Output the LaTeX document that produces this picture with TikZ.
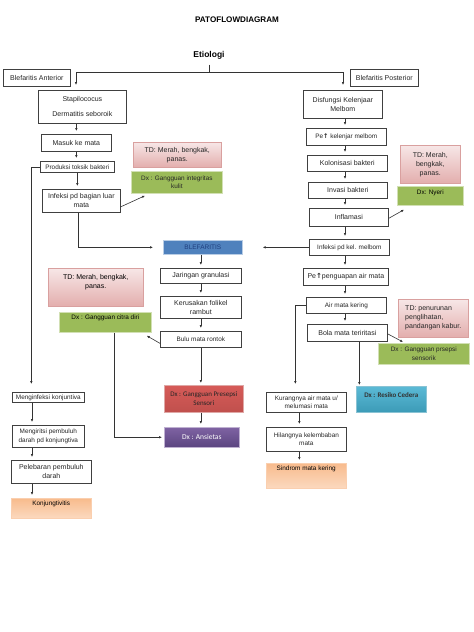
\documentclass[tikz,border=0pt]{standalone}
\usepackage{fontspec}
\setmainfont{Liberation Sans}
\newfontfamily\carl{Carlito}
\newfontfamily\djv{DejaVu Sans}
\newcommand\uparr{{\djv\bfseries ↑}}
\usetikzlibrary{arrows.meta,calc,shadows}
\definecolor{gfill}{HTML}{9BBB59}
\definecolor{pinkT}{HTML}{F7E7E7}
\definecolor{pinkB}{HTML}{E3AEAD}
\definecolor{pinkD}{HTML}{D9A09F}
\definecolor{bfill}{HTML}{4F81BD}
\definecolor{btext}{HTML}{1F3F7F}
\definecolor{redT}{HTML}{D65B58}
\definecolor{redB}{HTML}{C0504D}
\definecolor{purT}{HTML}{7F63A3}
\definecolor{purB}{HTML}{5B4580}
\definecolor{cyT}{HTML}{5BBAD6}
\definecolor{cyB}{HTML}{3C9BB7}
\definecolor{orT}{HTML}{F8BB8C}
\definecolor{orB}{HTML}{FBD9BF}
\definecolor{edgec}{HTML}{404040}
\begin{document}
\begin{tikzpicture}[x=1pt,y=-1pt,
  fsev/.style={font=\fontsize{7}{9}\selectfont},
  fsix/.style={font=\fontsize{6.4}{8.4}\selectfont},
  base/.style={anchor=north west, align=center, inner sep=1pt, fsev, text=black!85},
  bx/.style={base, draw=edgec, line width=0.7pt, fill=white},
  shad/.style={drop shadow={shadow xshift=0.8pt, shadow yshift=-0.8pt, opacity=0.25, fill=black}},
  pinkbox/.style={base, draw=pinkD, line width=0.5pt, top color=pinkT, bottom color=pinkB, shad},
  greenbox/.style={base, draw=gfill!45!white, line width=0.7pt, fill=gfill, shad, fsix},
  bluebox/.style={base, draw=bfill!40!white, line width=0.7pt, fill=bfill, shad, text=btext, font=\fontsize{6.5}{8}\selectfont},
  redbox/.style={base, draw=redB!50!white, line width=0.5pt, top color=redT, bottom color=redB, shad, text=black!85, font=\carl\fontsize{7}{9.5}\selectfont},
  purbox/.style={base, draw=purT!50!white, line width=0.5pt, top color=purT, bottom color=purB, shad, text=white, font=\carl\fontsize{7.5}{9}\selectfont},
  cybox/.style={base, draw=cyB!60!white, line width=0.5pt, top color=cyT, bottom color=cyB, shad, text=black!85},
  orbox/.style={base, draw=orT!70!white, line width=0.5pt, top color=orT, bottom color=orB, shad},
  inlbl/.style={anchor=north, yshift=-2pt, align=center, inner sep=1pt},
  ln/.style={line width=0.6pt, draw=black!80},
  arr/.style={ln, -{Latex[length=3pt,width=2.6pt]}},
  arrs/.style={arr, shorten >=3pt}
]
\useasboundingbox[fill=white] (0,0) rectangle (474,632);

% titles
\node[font=\bfseries\fontsize{8.1}{10}\selectfont] (title) at (237,20) {PATOFLOWDIAGRAM};
\node[font=\bfseries\fontsize{8.5}{10}\selectfont] (etio) at (209,55) {Etiologi};

% top level
\node[bx, minimum width=67pt, minimum height=17pt] (anter) at (3,69) {Blefaritis Anterior};
\node[bx, minimum width=68pt, minimum height=17pt] (poster) at (350,69) {Blefaritis Posterior};

% left column
\node[bx, minimum width=88pt, minimum height=33pt] (stap) at (38,90) {Stapilococus\\[6pt]Dermatitis seboroik};
\node[bx, minimum width=70pt, minimum height=17pt] (masuk) at (41,134) {Masuk ke mata};
\node[bx, minimum width=74pt, minimum height=11pt, fsix] (prod) at (40,161) {Produksi toksik bakteri};
\node[bx, minimum width=78pt, minimum height=23pt] (infk) at (42,189) {Infeksi pd bagian luar\\mata};
\node[pinkbox, minimum width=88pt, minimum height=25pt] (tdA) at (133,142) {TD: Merah, bengkak,\\panas.};
\node[greenbox, minimum width=91pt, minimum height=22pt] (integ) at (131,171) {Dx : Gangguan integritas\\kulit};

% right column
\node[bx, minimum width=79pt, minimum height=28pt] (disf) at (303,90) {Disfungsi Kelenjaar\\Melbom};
\node[bx, minimum width=80pt, minimum height=17pt, fsix] (pe1) at (306,128) {Pe\uparr{} kelenjar melbom};
\node[bx, minimum width=80pt, minimum height=16pt] (kolon) at (307,155) {Kolonisasi bakteri};
\node[bx, minimum width=79pt, minimum height=16pt] (invasi) at (308,182) {Invasi bakteri};
\node[bx, minimum width=79pt, minimum height=18pt] (inflam) at (309,208) {Inflamasi};
\node[pinkbox, minimum width=60pt, minimum height=38pt] (tdB) at (400,145) {TD: Merah,\\bengkak,\\panas.};
\node[greenbox, minimum width=66pt, minimum height=19pt, label={[inlbl, fsix, yshift=-1pt]north:{Dx: Nyeri}}] (nyeri) at (397,186) {};
\node[bx, minimum width=80pt, minimum height=16pt, fsix] (infkel) at (309,239) {Infeksi pd kel. melbom};
\node[bx, minimum width=85pt, minimum height=17pt] (pe2) at (303,268) {Pe\uparr{}penguapan air mata};
\node[bx, minimum width=80pt, minimum height=16pt, fsix] (airm) at (306,297) {Air mata kering};
\node[bx, minimum width=80pt, minimum height=17pt] (bola) at (307,324) {Bola mata teriritasi};
\node[pinkbox, minimum width=70pt, minimum height=38pt, align=left] (tdC) at (398,299) {TD: penurunan\\penglihatan,\\pandangan kabur.};
\node[greenbox, minimum width=91pt, minimum height=21pt] (sens) at (378,343) {Dx : Gangguan prsepsi\\sensorik};

% middle column
\node[bluebox, minimum width=79pt, minimum height=14pt] (blef) at (163,240) {BLEFARITIS};
\node[bx, minimum width=81pt, minimum height=15pt] (jar) at (160,268) {Jaringan granulasi};
\node[bx, minimum width=81pt, minimum height=22pt] (kerus) at (160,296) {Kerusakan folikel\\rambut};
\node[bx, minimum width=81pt, minimum height=16pt, fsix] (bulu) at (160,331) {Bulu mata rontok};
\node[pinkbox, minimum width=95pt, minimum height=38pt, label={[inlbl, fsev, yshift=-3pt]north:{TD: Merah, bengkak,\\panas.}}] (tdD) at (48,268) {};
\node[greenbox, minimum width=92pt, minimum height=20pt, label={[inlbl, fsix]north:{Dx : Gangguan citra diri}}] (citra) at (59,312) {};
\node[redbox, minimum width=79pt, minimum height=27pt] (presepsi) at (164,385) {Dx : Gangguan Presepsi\\Sensori};
\node[purbox, minimum width=75pt, minimum height=20pt] (ansietas) at (164,427) {Dx : Ansietas};

% lower left
\node[bx, minimum width=72pt, minimum height=10pt, fsix] (mengin) at (12,392) {Menginfeksi konjuntiva};
\node[bx, minimum width=72pt, minimum height=22pt, fsix] (menginitsi) at (12,425) {Mengiritsi pembuluh\\darah pd konjungtiva};
\node[bx, minimum width=80pt, minimum height=23pt] (pelebaran) at (11,460) {Pelebaran pembuluh\\darah};
\node[orbox, minimum width=80pt, minimum height=20pt, label={[inlbl, fsix]north:{Konjungtivitis}}] (konj) at (11,498) {};

% lower right
\node[bx, minimum width=80pt, minimum height=20pt, fsix] (kurang) at (266,392) {Kurangnya air mata u/\\melumasi mata};
\node[cybox, minimum width=70pt, minimum height=26pt, label={[inlbl, font=\carl\bfseries\fontsize{7}{9}\selectfont, text=black!80, yshift=-3pt]north:{Dx : Resiko Cedera}}] (resiko) at (356,386) {};
\node[bx, minimum width=80pt, minimum height=24pt, fsix] (hilang) at (266,427) {Hilangnya kelembaban\\mata};
\node[orbox, minimum width=80pt, minimum height=25pt, label={[inlbl, fsix]north:{Sindrom mata kering}}] (sindrom) at (266,463) {};

% connectors: etiologi split
\coordinate (jn) at (209,72);
\coordinate (jL) at (76,72);
\coordinate (jR) at (343,72);
\draw[ln] ([yshift=-2pt]etio.south) -- (jn);
\draw[ln] (jL) -- (jR);
\draw[arr, shorten >=5pt] (jL) -- (jL |- stap.north);
\draw[arr, shorten >=5pt] (jR) -- (jR |- disf.north);

% left chain
\draw[arrs] (masuk.north |- stap.south) -- (masuk.north);
\draw[arrs] (masuk.south) -- (masuk.south |- prod.north);
\draw[arrs] (prod.south) -- (prod.south |- infk.north);
\draw[arr] ([yshift=-6pt]infk.east) -- ([xshift=14pt,yshift=-2pt]integ.south west);
\draw[arr, shorten >=10pt] ([xshift=-3pt]infk.south) |- (blef.west);
\draw[arr, shorten >=8pt] (prod.west) -| ([xshift=-17pt]mengin.north);

% middle chain
\draw[arrs] (blef.south -| jar.north) -- (jar.north);
\draw[arrs] (jar.south) -- (kerus.north);
\draw[arrs] (kerus.south) -- (bulu.north);
\draw[arr] ([yshift=-4pt]bulu.west) -- ([xshift=-5pt,yshift=-3pt]citra.south east);
\draw[arr, shorten >=2pt] ([xshift=9pt]citra.south) |- (ansietas.west);
\draw[arr, shorten >=2pt] (bulu.south) -- (bulu.south |- presepsi.north);
\draw[arrs] (bulu.south |- presepsi.south) -- (bulu.south |- ansietas.north);

% right chain
\coordinate (rc) at (345,0);
\draw[arrs] (rc |- disf.south) -- (rc |- pe1.north);
\draw[arrs] (rc |- pe1.south) -- (rc |- kolon.north);
\draw[arrs] (rc |- kolon.south) -- (rc |- invasi.north);
\draw[arrs] (rc |- invasi.south) -- (rc |- inflam.north);
\draw[arrs] (rc |- inflam.south) -- (rc |- infkel.north);
\draw[arrs] (rc |- infkel.south) -- (rc |- pe2.north);
\draw[arrs] (rc |- pe2.south) -- (rc |- airm.north);
\draw[arrs] (rc |- airm.south) -- (rc |- bola.north);
\draw[arr] ([yshift=-1pt]inflam.east) -- ([xshift=7pt,yshift=-4pt]nyeri.south west);
\draw[arr, shorten >=20pt] (infkel.west) -- (infkel.west -| blef.east);
\draw[arr] ([yshift=-1pt]bola.east) -- ([xshift=25pt,yshift=1pt]sens.north west);
\draw[arr, shorten >=8pt] (airm.west) -| ([xshift=-11pt]kurang.north);
\draw[arr, shorten >=1pt] ([xshift=12pt]bola.south) -- ([xshift=12pt]bola.south |- resiko.north);
\draw[arrs] ([xshift=-7pt]kurang.south) -- ([xshift=-7pt]kurang.south |- hilang.north);
\draw[arrs] ([xshift=-7pt]hilang.south) -- ([xshift=-7pt]hilang.south |- sindrom.north);

% lower left chain
\coordinate (lc) at (32,0);
\draw[arrs] (lc |- mengin.south) -- (lc |- menginitsi.north);
\draw[arrs] (lc |- menginitsi.south) -- (lc |- pelebaran.north);
\draw[arrs] (lc |- pelebaran.south) -- (lc |- konj.north);
\end{tikzpicture}
\end{document}
